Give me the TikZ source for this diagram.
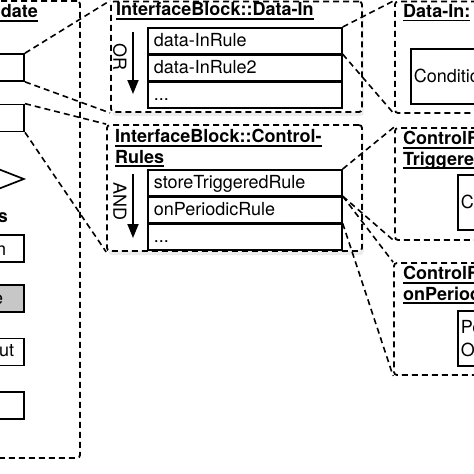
\documentclass[tikz,border=0pt]{standalone}
\usepackage{fontspec}
\setmainfont{TeX Gyre Heros}
\usetikzlibrary{positioning,calc,shapes.geometric,arrows.meta,shadows}
\newcommand{\ulin}[1]{\setbox0\hbox{#1}\rlap{\rule[-4pt]{\wd0}{1.6pt}}\box0}

\begin{document}
\begin{tikzpicture}[x=1pt,y=-1pt,
    every node/.style={font=\fontsize{18}{20.5}\selectfont},
    cont/.style={draw,line width=1.8pt,dash pattern=on 6pt off 4pt,rounded corners=3pt,fill=white,inner sep=0pt},
    shd/.style={drop shadow={opacity=.15,shadow xshift=1.5pt,shadow yshift=-4pt}},
    ttl/.style={anchor=north west,inner sep=0pt,align=left,font=\fontsize{18}{20.5}\selectfont\bfseries},
    rowbox/.style={draw,line width=1.7pt,minimum height=25.5pt,text width=182pt,inner xsep=6pt,inner ysep=0pt,align=left,text height=14pt,text depth=3pt},
    lbox/.style={draw,line width=1.7pt,anchor=east,minimum height=27pt},
    inbox/.style={draw,line width=1.7pt,anchor=north west,minimum height=55pt,text width=150pt,inner xsep=3pt,align=left},
    zoomln/.style={line width=1.6pt,dash pattern=on 6pt off 4pt},
    ordr/.style={line width=1.8pt,-{Triangle[length=14pt,width=11pt]}}]
        \useasboundingbox (0,0) rectangle (474,474);
        \clip (0,0) rectangle (474,474);
        % containers
        \node[cont,minimum width=180pt,minimum height=457pt] (up) at (-10,229.5) {};
        \node[cont,shd,minimum width=251pt,minimum height=110.5pt] (di) at (236.5,56.75) {};
        \node[cont,shd,minimum width=255pt,minimum height=126pt] (ci) at (234.5,188) {};
        \node[cont,minimum width=245pt,minimum height=111.5pt] (dr) at (517.5,57.25) {};
        \node[cont,minimum width=245pt,minimum height=112pt] (tr) at (517.5,184) {};
        \node[cont,minimum width=246pt,minimum height=112pt] (pr) at (517,319) {};
        % titles
        \node[ttl,anchor=north east] (tu) at (38,4.5) {\ulin{Update}};
        \node[ttl] (tdi) at (116,2.5) {\ulin{InterfaceBlock::Data-In}};
        \node[ttl] (tci) at (115,129) {\ulin{InterfaceBlock::Control-}\\\ulin{Rules}};
        \node[ttl] (tdr) at (403,4) {\ulin{Data-In:}};
        \node[ttl] (ttr) at (403,131) {\ulin{ControlRule::}\\\ulin{TriggeredRule}};
        \node[ttl] (tpr) at (403,266) {\ulin{ControlRule::}\\\ulin{onPeriodicRule}};
        % left column
        \node[lbox,minimum width=90pt] (ua) at (25,67.5) {};
        \node[lbox,minimum width=90pt] (ub) at (25,118) {};
        \node[draw,line width=1.7pt,diamond,anchor=east,minimum width=68pt,minimum height=27pt,inner sep=0pt] (uv) at (25,179) {};
        \node[anchor=base east,inner sep=0pt,font=\fontsize{18}{20.5}\selectfont\bfseries] (ul) at (8,222) {Rules};
        \node[lbox,minimum width=112pt] (uc) at (25,248.5) {Condition};
        \node[lbox,minimum width=79pt,fill=black!22] (ue) at (25,298.5) {Rule};
        \node[lbox,minimum width=74pt] (uf) at (25,352) {Output};
        \node[lbox,minimum width=90pt] (ug) at (25,405.5) {};
        % rule tables
        \node[rowbox,anchor=north west] (d1) at (147,27) {data-InRule};
        \node[rowbox,below=0pt of d1] (d2) {data-InRule2};
        \node[rowbox,below=0pt of d2] (d3) {...};
        \node[rowbox,anchor=north west] (c1) at (147,169) {storeTriggeredRule};
        \node[rowbox,below=0pt of c1] (c2) {onPeriodicRule};
        \node[rowbox,below=0pt of c2] (c3) {...};
        \coordinate (ora) at (133,32);
        \coordinate (orb) at (133,94);
        \draw[ordr] (ora) -- (orb);
        \node[rotate=-90] (orl) at (120,57) {OR};
        \coordinate (anda) at (133,174);
        \coordinate (andb) at (133,238);
        \draw[ordr] (anda) -- (andb);
        \node[rotate=-90] (andl) at (120,201) {AND};
        % right column
        \node[inbox] (drc) at (410,48) {Condition};
        \node[inbox] (trc) at (457,174) {Condition};
        \node[inbox,font=\fontsize{18}{23}\selectfont] (prc) at (457,310) {Period\\Offset};
        % zoom lines
        \draw[zoomln] (ua.north east) -- (di.north west);
        \draw[zoomln] (ua.south east) -- (di.south west);
        \draw[zoomln] (ub.north east) -- (ci.north west);
        \draw[zoomln] (ub.south east) -- (ci.south west);
        \draw[zoomln] (d1.north east) -- (dr.north west);
        \draw[zoomln] (d1.south east) -- (dr.south west);
        \draw[zoomln] (c1.north east) -- (tr.north west);
        \draw[zoomln] (c1.south east) -- (tr.south west);
        \draw[zoomln] (c2.north east) -- (pr.north west);
        \draw[zoomln] (c2.south east) -- (pr.south west);
      \end{tikzpicture}
\end{document}
